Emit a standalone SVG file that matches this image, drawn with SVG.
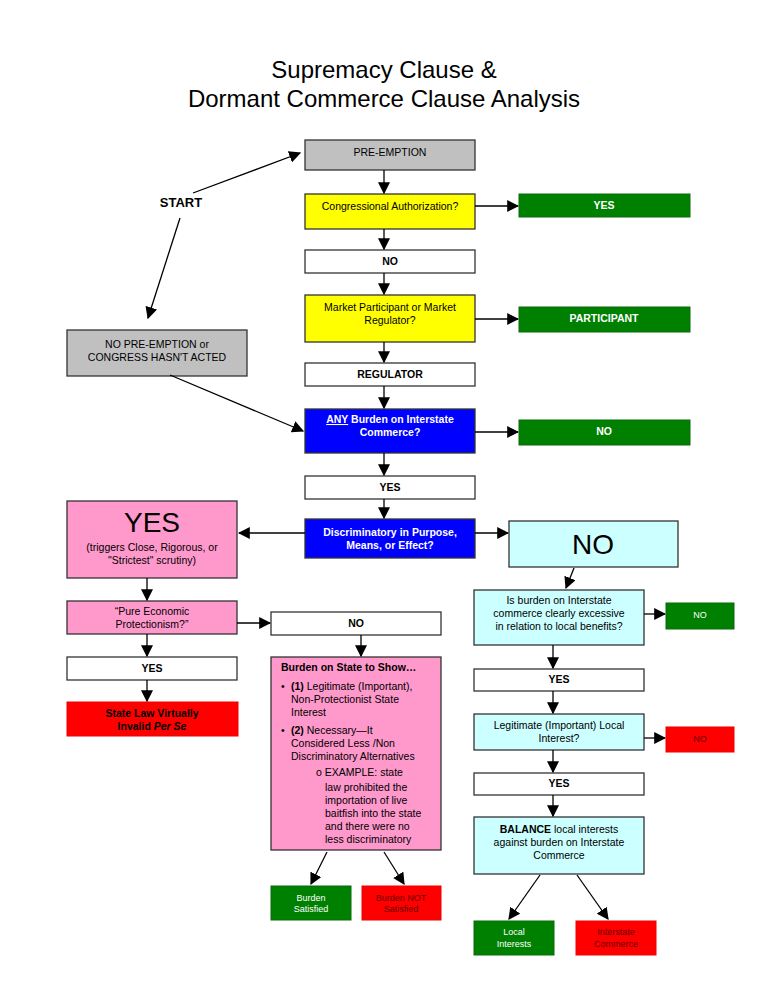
<svg xmlns="http://www.w3.org/2000/svg" width="768" height="994" viewBox="0 0 768 994">
<style>
text{font-family:"Liberation Sans",Arial,sans-serif;font-size:10.5px;text-anchor:middle}
.b{font-weight:bold}
.w{fill:#fff}
.box{stroke:#333;stroke-width:1.3}
.gray{fill:#c0c0c0}.yel{fill:#ffff00}.wht{fill:#fff}.blu{fill:#0000ff}.grn{fill:#008000;stroke:#0a6a0a}.red{fill:#ff0000;stroke:#e00}.pink{fill:#ff99cc}.cyan{fill:#ccffff}
#conn line{stroke:#000;stroke-width:1.3;marker-end:url(#ah)}
</style>
<defs><marker id="ah" viewBox="0 0 10 10" refX="9" refY="5" markerWidth="12" markerHeight="12" markerUnits="userSpaceOnUse" orient="auto"><path d="M0,0L10,5L0,10z" fill="#000"/></marker></defs>
<text x="384" y="78" style="font-size:24px">Supremacy Clause &amp;</text>
<text x="384" y="107" style="font-size:24px">Dormant Commerce Clause Analysis</text>
<text x="181" y="207" class="b" style="font-size:13px">START</text>
<g id="preemption"><rect class="box gray" x="305" y="140" width="170" height="30"/><text x="390" y="156">PRE-EMPTION</text></g>
<g id="congress"><rect class="box yel" x="305" y="194" width="170" height="35"/><text x="390" y="210">Congressional Authorization?</text></g>
<g id="yes1"><rect class="grn" x="519" y="194" width="171" height="23"/><text x="604" y="209" class="b w">YES</text></g>
<g id="no1"><rect class="box wht" x="305" y="250" width="170" height="23"/><text x="390" y="265" class="b">NO</text></g>
<g id="market"><rect class="box yel" x="305" y="295" width="170" height="47"/><text x="390" y="311">Market Participant or Market</text><text x="390" y="324">Regulator?</text></g>
<g id="participant"><rect class="grn" x="519" y="307" width="171" height="25"/><text x="604" y="322" class="b w">PARTICIPANT</text></g>
<g id="nopre"><rect class="box gray" x="67" y="330" width="180" height="46"/><text x="157" y="348">NO PRE-EMPTION or</text><text x="157" y="361">CONGRESS HASN'T ACTED</text></g>
<g id="regulator"><rect class="box wht" x="305" y="363" width="170" height="23"/><text x="390" y="378" class="b">REGULATOR</text></g>
<g id="anyburden"><rect class="box blu" x="305" y="409" width="170" height="44"/><text x="390" y="423" class="b w"><tspan text-decoration="underline">ANY</tspan> Burden on Interstate</text><text x="390" y="436" class="b w">Commerce?</text></g>
<g id="no2"><rect class="grn" x="519" y="420" width="171" height="25"/><text x="604" y="435" class="b w">NO</text></g>
<g id="yes2"><rect class="box wht" x="305" y="476" width="170" height="23"/><text x="390" y="491" class="b">YES</text></g>
<g id="discrim"><rect class="box blu" x="305" y="519" width="170" height="39"/><text x="390" y="536" class="b w">Discriminatory in Purpose,</text><text x="390" y="549" class="b w">Means, or Effect?</text></g>
<g id="bigyes"><rect class="box pink" x="67" y="501" width="170" height="77"/><text x="152" y="532" style="font-size:28px">YES</text><text x="152" y="551">(triggers Close, Rigorous, or</text><text x="152" y="564">"Strictest" scrutiny)</text></g>
<g id="pure"><rect class="box pink" x="67" y="601" width="170" height="33"/><text x="152" y="615">“Pure Economic</text><text x="152" y="628">Protectionism?”</text></g>
<g id="yes3"><rect class="box wht" x="67" y="657" width="170" height="23"/><text x="152" y="672" class="b">YES</text></g>
<g id="invalid"><rect class="red" x="67" y="702" width="171" height="34"/><text x="152" y="717" class="b">State Law Virtually</text><text x="152" y="730" class="b">Invalid <tspan font-style="italic">Per Se</tspan></text></g>
<g id="no3"><rect class="box wht" x="271" y="612" width="170" height="23"/><text x="356" y="627" class="b">NO</text></g>
<g id="burdenstate"><rect class="box pink" x="271" y="657" width="170" height="193"/>
<g style="text-anchor:start"><text x="281" y="671" class="b" style="text-anchor:start">Burden on State to Show…</text>
<text x="281" y="690" style="text-anchor:start">•</text><text x="291" y="690" style="text-anchor:start"><tspan class="b">(1)</tspan> Legitimate (Important),</text>
<text x="291" y="703" style="text-anchor:start">Non-Protectionist State</text>
<text x="291" y="716" style="text-anchor:start">Interest</text>
<text x="281" y="734" style="text-anchor:start">•</text><text x="291" y="734" style="text-anchor:start"><tspan class="b">(2)</tspan> Necessary—It</text>
<text x="291" y="747" style="text-anchor:start">Considered Less /Non</text>
<text x="291" y="760" style="text-anchor:start">Discriminatory Alternatives</text>
<text x="316" y="776" style="text-anchor:start">o EXAMPLE:  state</text>
<text x="325" y="791" style="text-anchor:start">law prohibited the</text>
<text x="325" y="804" style="text-anchor:start">importation of live</text>
<text x="325" y="817" style="text-anchor:start">baitfish into the state</text>
<text x="325" y="830" style="text-anchor:start">and there were no</text>
<text x="325" y="843" style="text-anchor:start">less discriminatory</text></g></g>
<g id="satisfied"><rect class="grn" x="271" y="886" width="80" height="34"/><text x="311" y="901" class="w" style="font-size:9px">Burden</text><text x="311" y="912" class="w" style="font-size:9px">Satisfied</text></g>
<g id="notsatisfied"><rect class="red" x="362" y="886" width="79" height="34"/><text x="401" y="901" style="font-size:9px;fill:#600">Burden NOT</text><text x="401" y="912" style="font-size:9px;fill:#600">Satisfied</text></g>
<g id="bigno"><rect class="box cyan" x="509" y="521" width="169" height="46"/><text x="593" y="554" style="font-size:28px">NO</text></g>
<g id="excessive"><rect class="box cyan" x="474" y="590" width="170" height="55"/><text x="559" y="604">Is burden on Interstate</text><text x="559" y="617">commerce clearly excessive</text><text x="559" y="630">in relation to local benefits?</text></g>
<g id="no4"><rect class="grn" x="666" y="603" width="68" height="26"/><text x="700" y="618" class="w" style="font-size:9px">NO</text></g>
<g id="yes4"><rect class="box wht" x="474" y="669" width="170" height="22"/><text x="559" y="683" class="b">YES</text></g>
<g id="legit"><rect class="box cyan" x="474" y="714" width="170" height="36"/><text x="559" y="729">Legitimate (Important) Local</text><text x="559" y="742">Interest?</text></g>
<g id="no5"><rect class="red" x="666" y="727" width="68" height="25"/><text x="700" y="742" style="font-size:9px;fill:#600">NO</text></g>
<g id="yes5"><rect class="box wht" x="474" y="773" width="170" height="22"/><text x="559" y="787" class="b">YES</text></g>
<g id="balance"><rect class="box cyan" x="474" y="817" width="170" height="57"/><text x="559" y="833"><tspan class="b">BALANCE</tspan> local interests</text><text x="559" y="846">against burden on Interstate</text><text x="559" y="859">Commerce</text></g>
<g id="local"><rect class="grn" x="474" y="921" width="80" height="34"/><text x="514" y="935" class="w" style="font-size:9px">Local</text><text x="514" y="947" class="w" style="font-size:9px">Interests</text></g>
<g id="interstate"><rect class="red" x="576" y="921" width="80" height="34"/><text x="616" y="935" style="font-size:9px;fill:#600">Interstate</text><text x="616" y="947" style="font-size:9px;fill:#600">Commerce</text></g>
<g id="conn">
<line x1="193" y1="193" x2="300" y2="153"/>
<line x1="180" y1="218" x2="148" y2="318"/>
<line x1="170" y1="375" x2="303" y2="431"/>
<line x1="384" y1="170" x2="384" y2="193"/>
<line x1="384" y1="229" x2="384" y2="249"/>
<line x1="384" y1="273" x2="384" y2="294"/>
<line x1="384" y1="342" x2="384" y2="362"/>
<line x1="384" y1="386" x2="384" y2="408"/>
<line x1="384" y1="453" x2="384" y2="475"/>
<line x1="384" y1="499" x2="384" y2="518"/>
<line x1="475" y1="206" x2="518" y2="206"/>
<line x1="475" y1="319" x2="518" y2="319"/>
<line x1="475" y1="432" x2="518" y2="432"/>
<line x1="305" y1="533" x2="239" y2="533"/>
<line x1="475" y1="533" x2="508" y2="533"/>
<line x1="147" y1="578" x2="147" y2="600"/>
<line x1="147" y1="634" x2="147" y2="656"/>
<line x1="147" y1="680" x2="147" y2="701"/>
<line x1="237" y1="623" x2="270" y2="623"/>
<line x1="361" y1="635" x2="361" y2="656"/>
<line x1="327" y1="852" x2="311" y2="884"/>
<line x1="384" y1="852" x2="404" y2="884"/>
<line x1="574" y1="568" x2="566" y2="588"/>
<line x1="644" y1="614" x2="665" y2="614"/>
<line x1="553" y1="645" x2="553" y2="668"/>
<line x1="553" y1="691" x2="553" y2="713"/>
<line x1="644" y1="738" x2="665" y2="738"/>
<line x1="553" y1="750" x2="553" y2="772"/>
<line x1="553" y1="795" x2="553" y2="816"/>
<line x1="540" y1="875" x2="509" y2="919"/>
<line x1="577" y1="875" x2="608" y2="919"/>
</g>
</svg>
